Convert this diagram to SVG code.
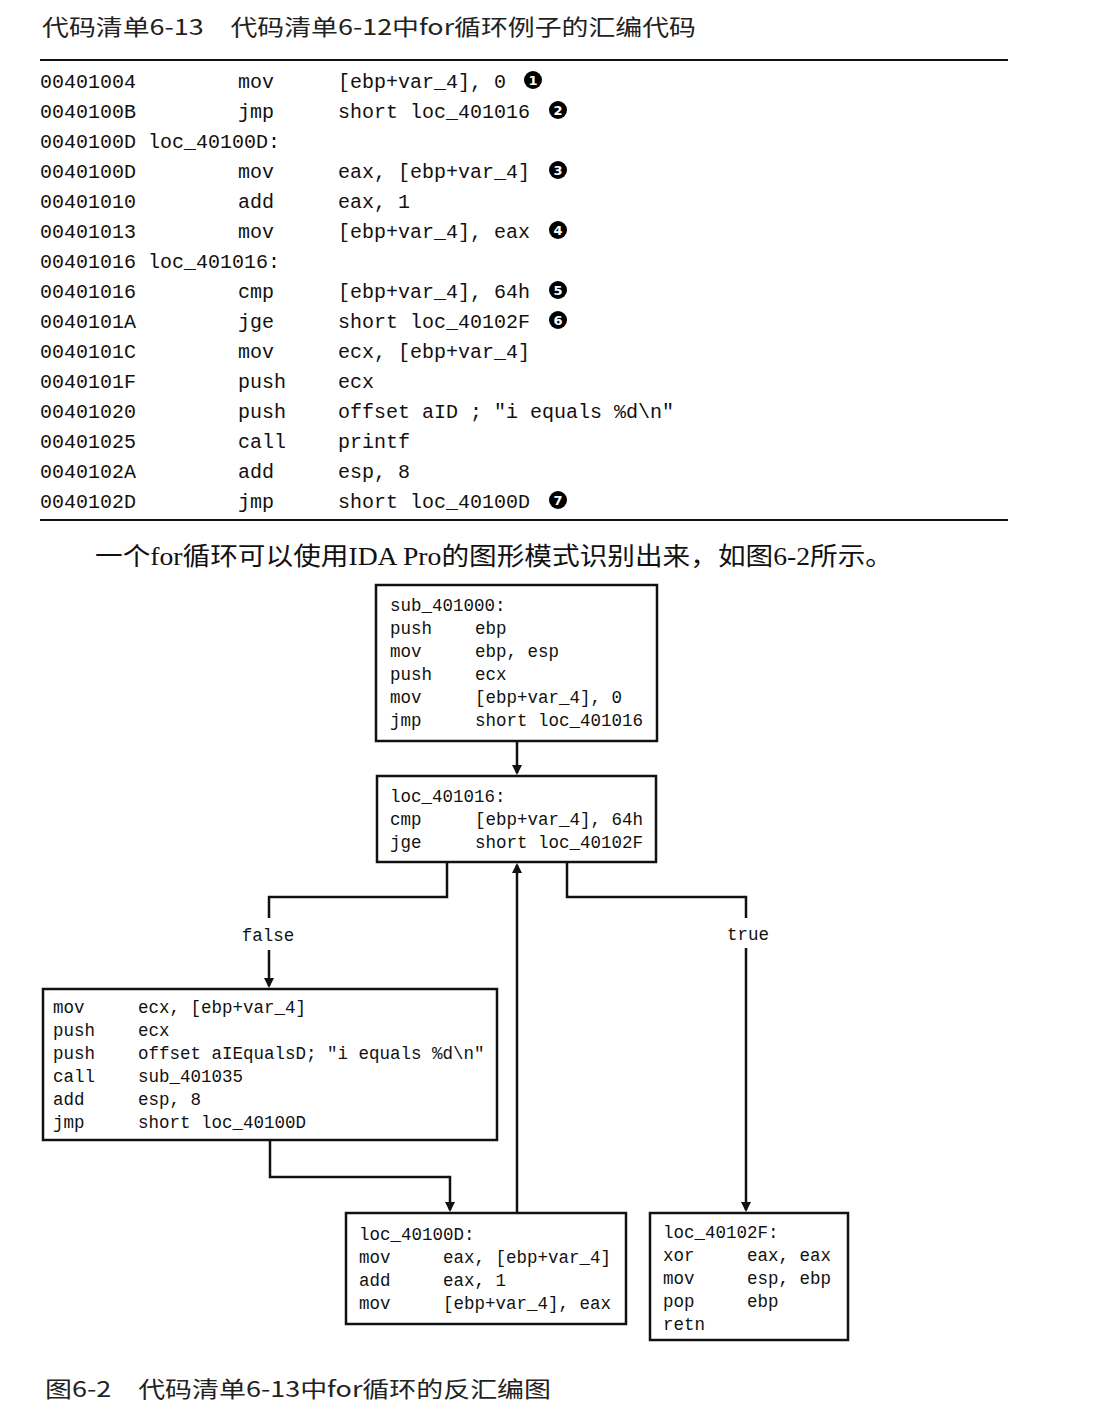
<svg xmlns="http://www.w3.org/2000/svg" width="1116" height="1418" viewBox="0 0 1116 1418">
<style>
.t{font-family:"Noto Sans CJK SC","Noto Sans",sans-serif;font-size:22px;fill:#222}
.m{font-family:"Liberation Mono","DejaVu Sans Mono",monospace;font-size:20px;fill:#111}
.b{font-family:"Liberation Mono","DejaVu Sans Mono",monospace;font-size:17.5px;fill:#111}
.p{font-family:"Liberation Serif","Noto Sans CJK SC",serif;font-size:25px;fill:#111}
.box{fill:#fff;stroke:#111;stroke-width:2.5}
.c{fill:none;stroke:#111;stroke-width:2.5}
.n{font-family:"DejaVu Sans",sans-serif;font-size:13px;font-weight:bold;fill:#fff;text-anchor:middle}
</style>
<defs><marker id="a" markerWidth="10" markerHeight="10" refX="8" refY="5" orient="auto" markerUnits="userSpaceOnUse"><path d="M0,0 L10,5 L0,10 Z" fill="#111"/></marker></defs>
<rect width="1116" height="1418" fill="#fff"/>
<text class="t" x="42" y="35" textLength="654" lengthAdjust="spacingAndGlyphs">代码清单6-13　代码清单6-12中for循环例子的汇编代码</text>
<line x1="40" y1="60" x2="1008" y2="60" stroke="#111" stroke-width="2"/>
<line x1="40" y1="520" x2="1008" y2="520" stroke="#111" stroke-width="2"/>
<g class="m">
<text x="40" y="88">00401004</text><text x="238" y="88">mov</text><text x="338" y="88">[ebp+var_4], 0</text>
<text x="40" y="118">0040100B</text><text x="238" y="118">jmp</text><text x="338" y="118">short loc_401016</text>
<text x="40" y="148">0040100D loc_40100D:</text>
<text x="40" y="178">0040100D</text><text x="238" y="178">mov</text><text x="338" y="178">eax, [ebp+var_4]</text>
<text x="40" y="208">00401010</text><text x="238" y="208">add</text><text x="338" y="208">eax, 1</text>
<text x="40" y="238">00401013</text><text x="238" y="238">mov</text><text x="338" y="238">[ebp+var_4], eax</text>
<text x="40" y="268">00401016 loc_401016:</text>
<text x="40" y="298">00401016</text><text x="238" y="298">cmp</text><text x="338" y="298">[ebp+var_4], 64h</text>
<text x="40" y="328">0040101A</text><text x="238" y="328">jge</text><text x="338" y="328">short loc_40102F</text>
<text x="40" y="358">0040101C</text><text x="238" y="358">mov</text><text x="338" y="358">ecx, [ebp+var_4]</text>
<text x="40" y="388">0040101F</text><text x="238" y="388">push</text><text x="338" y="388">ecx</text>
<text x="40" y="418">00401020</text><text x="238" y="418">push</text><text x="338" y="418">offset aID  ; "i equals %d\n"</text>
<text x="40" y="448">00401025</text><text x="238" y="448">call</text><text x="338" y="448">printf</text>
<text x="40" y="478">0040102A</text><text x="238" y="478">add</text><text x="338" y="478">esp, 8</text>
<text x="40" y="508">0040102D</text><text x="238" y="508">jmp</text><text x="338" y="508">short loc_40100D</text>
</g>
<g id="callouts">
<circle cx="533" cy="80" r="9"/><text class="n" x="533" y="85">1</text>
<circle cx="558" cy="110" r="9"/><text class="n" x="558" y="115">2</text>
<circle cx="558" cy="170" r="9"/><text class="n" x="558" y="175">3</text>
<circle cx="558" cy="230" r="9"/><text class="n" x="558" y="235">4</text>
<circle cx="558" cy="290" r="9"/><text class="n" x="558" y="295">5</text>
<circle cx="558" cy="320" r="9"/><text class="n" x="558" y="325">6</text>
<circle cx="558" cy="500" r="9"/><text class="n" x="558" y="505">7</text>
</g>
<text class="p" x="95" y="565" textLength="798" lengthAdjust="spacingAndGlyphs">一个for循环可以使用IDA Pro的图形模式识别出来，如图6-2所示。</text>
<g id="connectors">
<line class="c" x1="517" y1="741" x2="517" y2="773" marker-end="url(#a)"/>
<polyline class="c" points="447,862 447,897 269,897 269,918"/>
<line class="c" x1="269" y1="950" x2="269" y2="986" marker-end="url(#a)"/>
<polyline class="c" points="567,862 567,897 746,897 746,918"/>
<line class="c" x1="746" y1="948" x2="746" y2="1210" marker-end="url(#a)"/>
<polyline class="c" points="270,1140 270,1177 450,1177 450,1210" marker-end="url(#a)"/>
<line class="c" x1="517" y1="1212" x2="517" y2="865" marker-end="url(#a)"/>
<text class="b" x="268" y="941" text-anchor="middle">false</text>
<text class="b" x="748" y="940" text-anchor="middle">true</text>
</g>
<g id="n1"><rect class="box" x="376" y="585" width="281" height="156"/>
<g class="b"><text x="390" y="611">sub_401000:</text>
<text x="390" y="634">push</text><text x="475" y="634">ebp</text>
<text x="390" y="657">mov</text><text x="475" y="657">ebp, esp</text>
<text x="390" y="680">push</text><text x="475" y="680">ecx</text>
<text x="390" y="703">mov</text><text x="475" y="703">[ebp+var_4], 0</text>
<text x="390" y="726">jmp</text><text x="475" y="726">short loc_401016</text></g></g>
<g id="n2"><rect class="box" x="377" y="776" width="279" height="86"/>
<g class="b"><text x="390" y="802">loc_401016:</text>
<text x="390" y="825">cmp</text><text x="475" y="825">[ebp+var_4], 64h</text>
<text x="390" y="848">jge</text><text x="475" y="848">short loc_40102F</text></g></g>
<g id="n3"><rect class="box" x="43" y="989" width="454" height="151"/>
<g class="b"><text x="53" y="1013">mov</text><text x="138" y="1013">ecx, [ebp+var_4]</text>
<text x="53" y="1036">push</text><text x="138" y="1036">ecx</text>
<text x="53" y="1059">push</text><text x="138" y="1059">offset aIEqualsD; "i equals %d\n"</text>
<text x="53" y="1082">call</text><text x="138" y="1082">sub_401035</text>
<text x="53" y="1105">add</text><text x="138" y="1105">esp, 8</text>
<text x="53" y="1128">jmp</text><text x="138" y="1128">short loc_40100D</text></g></g>
<g id="n4"><rect class="box" x="346" y="1213" width="280" height="111"/>
<g class="b"><text x="359" y="1240">loc_40100D:</text>
<text x="359" y="1263">mov</text><text x="443" y="1263">eax, [ebp+var_4]</text>
<text x="359" y="1286">add</text><text x="443" y="1286">eax, 1</text>
<text x="359" y="1309">mov</text><text x="443" y="1309">[ebp+var_4], eax</text></g></g>
<g id="n5"><rect class="box" x="650" y="1213" width="198" height="127"/>
<g class="b"><text x="663" y="1238">loc_40102F:</text>
<text x="663" y="1261">xor</text><text x="747" y="1261">eax, eax</text>
<text x="663" y="1284">mov</text><text x="747" y="1284">esp, ebp</text>
<text x="663" y="1307">pop</text><text x="747" y="1307">ebp</text>
<text x="663" y="1330">retn</text></g></g>
<text class="t" x="45" y="1397" textLength="506" lengthAdjust="spacingAndGlyphs">图6-2　代码清单6-13中for循环的反汇编图</text>
</svg>
